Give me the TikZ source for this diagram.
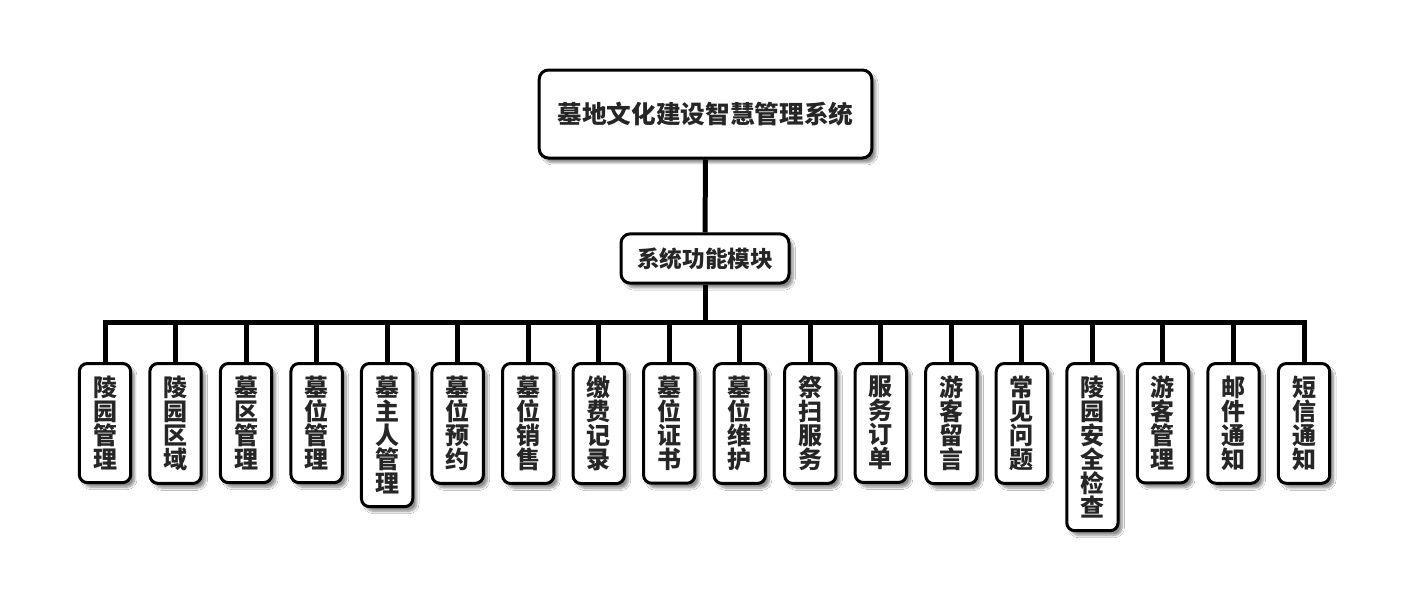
\documentclass[tikz,border=0pt]{standalone}
\usepackage{fontspec}
\newfontfamily\cjk{Noto Sans CJK SC}
\usetikzlibrary{shadows.blur}
\begin{document}
\begin{tikzpicture}[x=0.75pt,y=-0.75pt,
  box/.style={draw=black,line width=2.25pt,rounded corners=7pt,fill=white,text=black!85,
    blur shadow={shadow xshift=3pt,shadow yshift=-3.5pt,shadow blur steps=8,shadow opacity=45}},
  topbox/.style={box,minimum width=249.5pt,minimum height=66pt,font=\cjk\bfseries\fontsize{18.5}{18.5}\selectfont},
  midbox/.style={box,minimum width=126pt,minimum height=37pt,font=\cjk\bfseries\fontsize{17}{17}\selectfont},
  leaf/.style={box,anchor=north,minimum width=38.5pt,inner xsep=0pt,inner ysep=9.4pt,align=center,
    font=\cjk\bfseries\fontsize{18}{18}\selectfont,rounded corners=6pt},
  wire/.style={line width=3.75pt,draw=black}]
\useasboundingbox (0,0) rectangle (1409,607);
\fill[white] (0,0) rectangle (1409,607);
\node[topbox] (root) at (705.5,114) {墓地文化建设智慧管理系统};
\node[midbox] (mod) at (705,258.5) {系统功能模块};
\coordinate (busL) at (105,322);
\coordinate (busR) at (1304,322);
\coordinate (busM) at (705,322);
\foreach \i/\t in {0/{陵\\园\\管\\理},1/{陵\\园\\区\\域},2/{墓\\区\\管\\理},3/{墓\\位\\管\\理},
  4/{墓\\主\\人\\管\\理},5/{墓\\位\\预\\约},6/{墓\\位\\销\\售},7/{缴\\费\\记\\录},
  8/{墓\\位\\证\\书},9/{墓\\位\\维\\护},10/{祭\\扫\\服\\务},11/{服\\务\\订\\单},
  12/{游\\客\\留\\言},13/{常\\见\\问\\题},14/{陵\\园\\安\\全\\检\\查},15/{游\\客\\管\\理},
  16/{邮\\件\\通\\知},17/{短\\信\\通\\知}}{
  \pgfmathsetmacro\xx{105+\i*70.53}
  \node[leaf] (c\i) at (\xx,362) {\t};
  \coordinate (b\i) at (\xx,322);
}
\draw[wire] (root.south) -- (mod.north);
\draw[wire] (mod.south) -- (busM);
\draw[wire,line cap=rect] (busL) -- (busR);
\foreach \i in {0,...,17}{
  \draw[wire] (b\i) -- (c\i.north);
}
\end{tikzpicture}
\end{document}
